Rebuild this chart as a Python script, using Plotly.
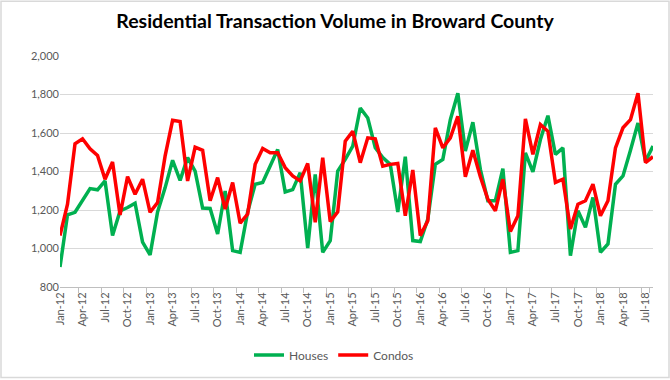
import plotly.graph_objects as go

months = ["Jan", "Feb", "Mar", "Apr", "May", "Jun", "Jul", "Aug", "Sep", "Oct", "Nov", "Dec"]
categories = [f"{m}-{y:02d}" for y in range(12, 19) for m in months][:80]

houses = [904, 1175, 1188, 1248, 1311, 1305, 1351, 1067, 1195, 1213, 1235, 1033,
          967, 1190, 1315, 1458, 1354, 1472, 1402, 1210, 1208, 1075, 1299, 989,
          980, 1190, 1334, 1343, 1428, 1514, 1294, 1306, 1394, 1002, 1385, 980,
          1041, 1402, 1463, 1532, 1730, 1678, 1523, 1472, 1437, 1190, 1477, 1041,
          1036, 1153, 1437, 1463, 1669, 1807, 1506, 1656, 1411, 1248, 1248, 1415,
          980, 989, 1497, 1398, 1566, 1690, 1489, 1523, 963, 1196, 1110, 1265,
          980, 1024, 1334, 1377, 1510, 1652, 1454, 1532]
condos = [1067, 1230, 1544, 1570, 1518, 1483, 1360, 1449, 1174, 1373, 1282, 1360,
          1188, 1239, 1480, 1666, 1660, 1351, 1526, 1510, 1248, 1368, 1205, 1343,
          1132, 1179, 1437, 1520, 1497, 1497, 1420, 1377, 1351, 1442, 1136, 1472,
          1140, 1190, 1557, 1609, 1446, 1575, 1570, 1428, 1437, 1442, 1170, 1408,
          1067, 1144, 1627, 1523, 1575, 1687, 1373, 1510, 1373, 1256, 1196, 1360,
          1088, 1170, 1673, 1489, 1644, 1609, 1343, 1360, 1101, 1230, 1248, 1334,
          1170, 1248, 1523, 1627, 1669, 1807, 1446, 1477]
tick_labels = categories[::3]

FONT = "Lato"
fig = go.Figure()
fig.add_trace(go.Scatter(x=categories, y=houses, name="Houses", mode="lines",
                         line=dict(color="#00B050", width=3.5)))
fig.add_trace(go.Scatter(x=categories, y=condos, name="Condos", mode="lines",
                         line=dict(color="#FF0000", width=3.5)))

L, R, T, B = 60, 17, 56, 92
W, H = 670, 380
pw, ph = W - L - R, H - T - B
fig.update_layout(
    width=W, height=H,
    margin=dict(l=L, r=R, t=T, b=B),
    paper_bgcolor="white", plot_bgcolor="white",
    font=dict(family=FONT, color="#595959", size=11),
    title=dict(text="<b>Residential Transaction Volume in Broward County</b>",
               x=0.5, xanchor="center", y=1 - 21 / H, yanchor="middle",
               font=dict(family=FONT, size=19.5, color="#000000")),
    showlegend=True,
    legend=dict(orientation="h", x=(334 - L) / pw, xanchor="center",
                y=-(355 - 288) / ph, yanchor="middle",
                font=dict(family=FONT, size=12, color="#595959"), itemwidth=30,
                tracegroupgap=0),
    xaxis=dict(type="category", tickmode="array", tickvals=tick_labels, ticktext=tick_labels,
               tickangle=-90, tickson="boundaries", ticks="outside", ticklen=5,
               tickcolor="#BFBFBF", showgrid=False, showline=True, linecolor="#BFBFBF",
               linewidth=1, tickfont=dict(size=11, color="#595959")),
    yaxis=dict(range=[800, 2000], dtick=200, tickformat=",", showgrid=True,
               gridcolor="#D9D9D9", gridwidth=1, zeroline=False, showline=False,
               tickfont=dict(size=11, color="#595959"), ticks=""),
    shapes=[dict(type="rect", xref="paper", yref="paper",
                 x0=-(L - 1) / pw, x1=1 + (R - 1) / pw,
                 y0=-(B - 1) / ph, y1=1 + (T - 1) / ph,
                 line=dict(color="#D9D9D9", width=1.5), layer="below")],
)
fig.write_html("out.html", config={"displayModeBar": False},
               post_script="document.body.style.margin='0';document.body.style.padding='0';")
